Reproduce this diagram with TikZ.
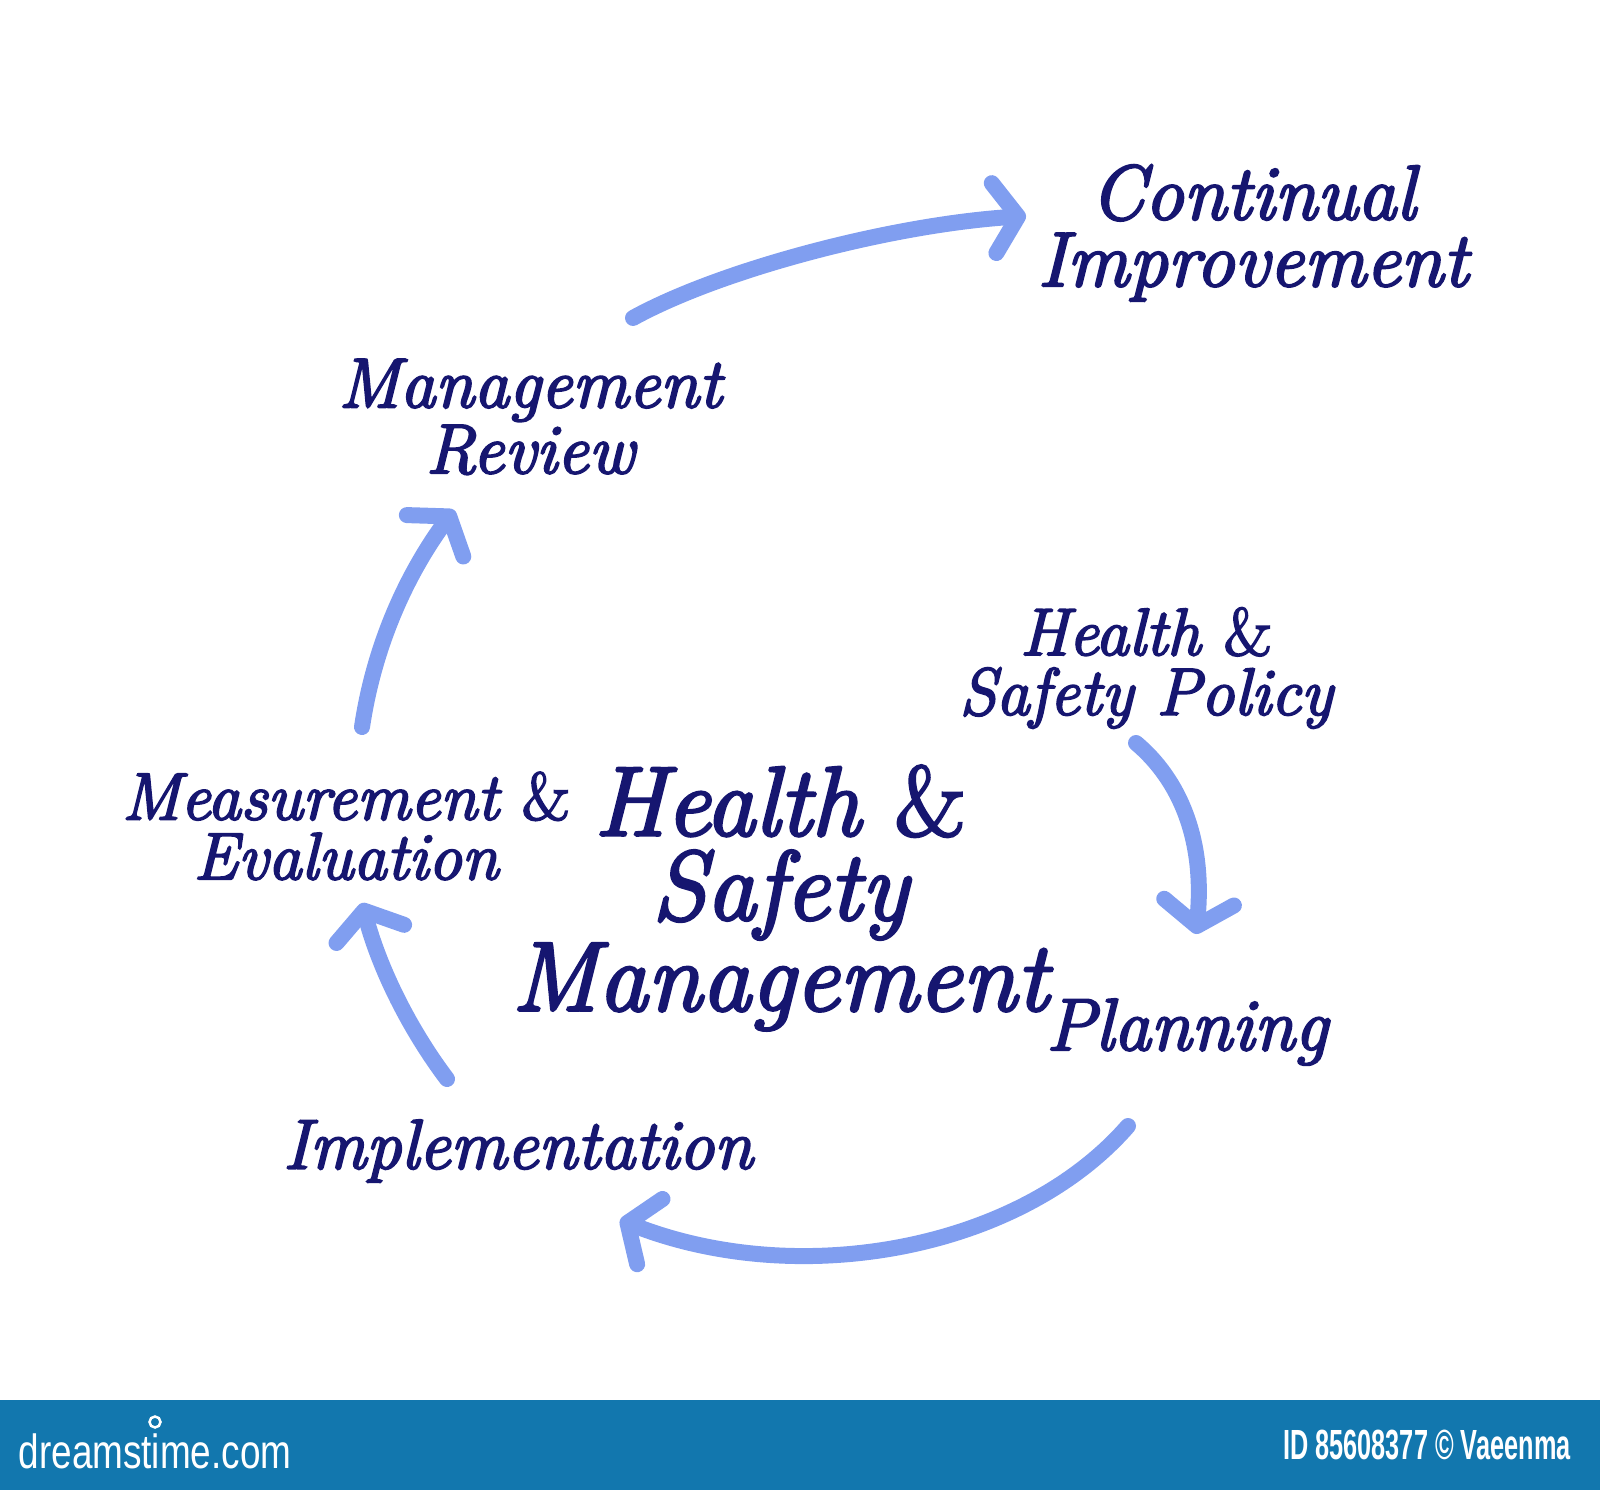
\documentclass[tikz,border=0pt]{standalone}
\usepackage{fontspec}
\newfontfamily\footfont{Liberation Sans}
\newfontfamily\handfont[FakeBold=3]{Latin Modern Roman}
\usetikzlibrary{arrows.meta}

\definecolor{inkblue}{RGB}{22,22,112}
\definecolor{arrowblue}{RGB}{128,158,240}
\definecolor{barblue}{RGB}{18,119,174}

\newcommand{\amp}{{\upshape\&}}

\tikzset{
  label/.style={text=inkblue, align=center, inner sep=0pt,
    font=\handfont\itshape\fontsize{20}{17}\selectfont},
  biglabel/.style={label, font=\handfont\itshape\fontsize{28}{24}\selectfont},
  cyclearrow/.style={draw=arrowblue, line width=1.6mm, line cap=round,
    -{Straight Barb[length=2.4mm,width=7mm,round]}}
}

\begin{document}
\begin{tikzpicture}
  \useasboundingbox (0,0) rectangle (16,14.9);
  % footer bar
  \fill[barblue] (0,0) rectangle (16,0.9);
  \node[text=white, anchor=west, inner sep=0pt, yscale=1.3, transform shape,
    font=\footfont\fontsize{10.5}{11}\selectfont] (site) at (0.18,0.39) {dreamstime.com};
  \draw[white, line width=0.25mm] (1.55,0.68) circle (0.055);
  \node[text=white, anchor=east, inner sep=0pt, xscale=0.6, transform shape,
    font=\footfont\bfseries\fontsize{12}{12}\selectfont] (credit) at (15.71,0.45) {ID 85608377 \textcopyright{} Vaeenma};

  % labels
  \node[label, font=\handfont\itshape\fontsize{22}{19}\selectfont] (improve) at (12.53,12.57) {Continual\\Improvement};
  \node[label] (review) at (5.30,10.73) {Management\\Review};
  \node[label, font=\handfont\itshape\fontsize{19}{17}\selectfont] (policy) at (11.46,8.22) {Health \amp\\Safety Policy};
  \node[label, font=\handfont\itshape\fontsize{19}{17}\selectfont] (measure) at (3.46,6.64) {Measurement \amp\\Evaluation};
  \node[biglabel] (hsm) at (7.80,5.92) {Health \amp\\Safety\\Management};
  \node[label, font=\handfont\itshape\fontsize{21}{17}\selectfont] (plan) at (11.87,4.58) {Planning};
  \node[label] (implement) at (5.18,3.39) {Implementation};

  % arrow ends
  \coordinate (a1) at (6.33,11.72);
  \coordinate (b1) at (10.26,12.74);
  \coordinate (a2) at (11.36,7.47);
  \coordinate (b2) at (11.96,5.56);
  \coordinate (a3) at (11.28,3.64);
  \coordinate (b3) at (6.20,2.70);
  \coordinate (a4) at (4.47,4.11);
  \coordinate (b4) at (3.62,5.87);
  \coordinate (a5) at (3.62,7.63);
  \coordinate (b5) at (4.54,9.80);

  % the cycle
  \draw[cyclearrow] (a1) .. controls (7.2,12.2) and (8.9,12.65) .. (b1);
  \draw[cyclearrow] (a2) .. controls (11.8,7.1) and (12.05,6.5) .. (b2);
  \draw[cyclearrow] (a3) .. controls (10.2,2.4) and (8.0,2.0) .. (b3);
  \draw[cyclearrow] (a4) .. controls (4.1,4.6) and (3.8,5.2) .. (b4);
  \draw[cyclearrow] (a5) .. controls (3.75,8.5) and (4.1,9.2) .. (b5);
\end{tikzpicture}
\end{document}
